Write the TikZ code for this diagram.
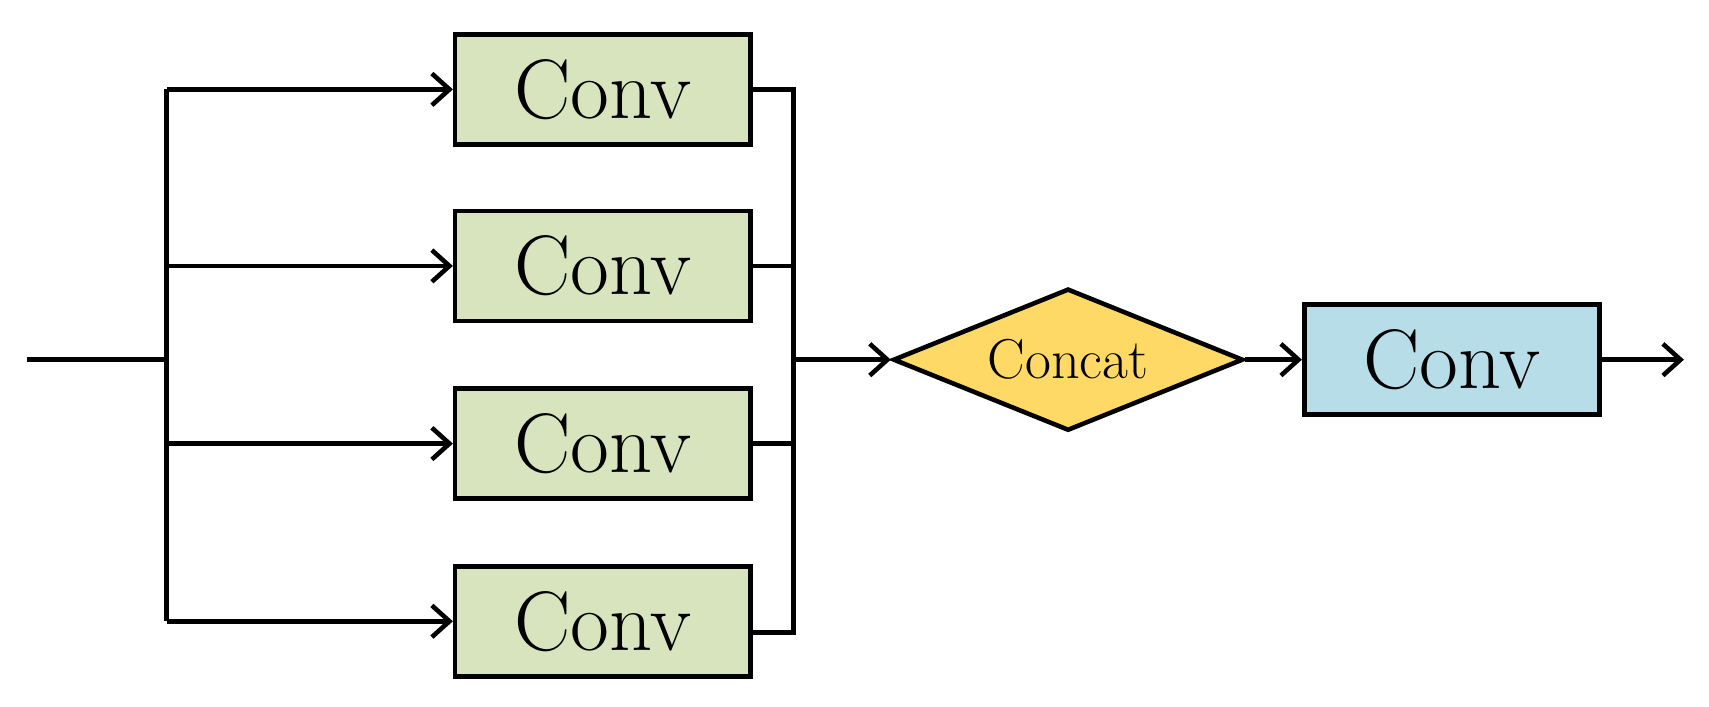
\documentclass[tikz,border=0pt]{standalone}
\usepackage{tikz}
\usetikzlibrary{shapes.geometric, positioning, arrows.meta}
\definecolor{convgreen}{HTML}{D7E4BD}
\definecolor{convblue}{HTML}{B7DDE8}
\definecolor{catyellow}{HTML}{FFD966}
\begin{document}
\begin{tikzpicture}[x=0.0109cm,y=-0.0109cm]
    \tikzset{conv/.style={rectangle,draw=black,fill=convgreen,line width=1.3pt,minimum width=2.95cm,minimum height=1.1cm,font=\fontsize{24}{26}\selectfont}}
    \tikzset{last/.style={conv,fill=convblue}}
    \tikzset{concat/.style={diamond,draw=black,fill=catyellow,line width=1.3pt,minimum width=3.5cm,minimum height=1.42cm,aspect=2.46,inner sep=0pt,font=\fontsize{16}{18}\selectfont}}
    \tikzset{link/.style={line width=1.3pt}}
    \tikzset{arrow/.style={link,-{Straight Barb[length=5pt,width=9pt]}}}
    \useasboundingbox (0,0) rectangle (1568,648);
    \node[conv] at (553, 82) (c1) {Conv};
    \node[conv] at (553, 244) (c2) {Conv};
    \node[conv] at (553, 407) (c3) {Conv};
    \node[conv] at (553, 570) (c4) {Conv};
    \node[concat] at (980, 330) (cat) {Concat};
    \node[last] at (1332, 330) (c5) {Conv};
    \coordinate (in) at (25, 330);
    \coordinate (split) at (153, 330);
    \coordinate (merge) at (728, 330);
    \coordinate (out) at (1545, 330);
    \coordinate (low) at ([yshift=-0.11cm]c4.east);

    \draw[link] (in) -- (split);
    \draw[link] (split |- c1) -- (split |- c4);
    \foreach \c in {c1,c2,c3,c4}
        \draw[arrow] (split |- \c) -- (\c.west);
    \draw[link] (c1.east) -- (merge |- c1) -- (merge |- low) -- (low);
    \draw[link] (c2.east) -- (merge |- c2);
    \draw[link] (c3.east) -- (merge |- c3);
    \draw[arrow] (merge) -- (cat.west);
    \draw[arrow] (cat.east) -- (c5.west);
    \draw[arrow] (c5.east) -- (out);
\end{tikzpicture}
\end{document}
